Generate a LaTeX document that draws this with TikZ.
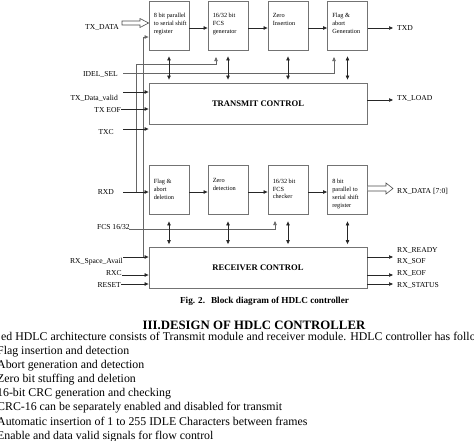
\documentclass[tikz,border=0pt]{standalone}
\usepackage{fontspec}
\setmainfont{Liberation Serif}
\usetikzlibrary{arrows.meta,calc}
\begin{document}
\begin{tikzpicture}[x=1pt,y=-1pt,
  blk/.style={draw=black!55, line width=0.8pt, fill=white, minimum width=40pt, minimum height=49pt, inner sep=0pt},
  ctl/.style={draw=black!55, line width=0.8pt, minimum width=218pt, minimum height=41pt, inner sep=0pt, font=\fontsize{8.6}{10}\selectfont\bfseries},
  blbl/.style={font=\fontsize{6.3}{7.9}\selectfont, align=left, inner sep=0pt, anchor=north west},
  sigl/.style={font=\fontsize{7.6}{9}\selectfont, inner sep=0pt, anchor=base east},
  sigr/.style={font=\fontsize{7.6}{9}\selectfont, inner sep=0pt, anchor=base west},
  arr/.style={-{Triangle[length=4pt,width=3.4pt]}, line width=0.7pt, draw=black!85},
  darr/.style={{Triangle[length=4pt,width=3.4pt]}-{Triangle[length=4pt,width=3.4pt]}, line width=0.7pt, draw=black!85},
  warr/.style={-{Triangle[length=4pt,width=3.4pt]}, line width=0.7pt, draw=black!60},
  hol/.style={draw=black!70, line width=0.6pt, fill=white},
  body/.style={font=\fontsize{11.85}{14}\selectfont, inner sep=0pt, anchor=base west},
]
\clip (0,0) rectangle (474,440);

% transmit blocks
\node[blk] (t1) at (169,25.5) {};
\node[blk] (t2) at (228,25.5) {};
\node[blk] (t3) at (288,25.5) {};
\node[blk] (t4) at (347.5,25.5) {};
\node[blbl] (t1l) at ([xshift=5pt,yshift=-12.5pt]t1.north west) {8 bit parallel\\to serial shift\\register};
\node[blbl] (t2l) at ([xshift=5pt,yshift=-12.5pt]t2.north west) {16/32 bit\\FCS\\generator};
\node[blbl] (t3l) at ([xshift=5pt,yshift=-12.5pt]t3.north west) {Zero\\Insertion};
\node[blbl] (t4l) at ([xshift=5pt,yshift=-12.5pt]t4.north west) {Flag \&\\abort\\Generation};
\node[ctl] (tc) at (258,103.5) {TRANSMIT CONTROL};

% receive blocks
\node[blk] (r1) at (169,189.5) {};
\node[blk] (r2) at (228,189.5) {};
\node[blk] (r3) at (288,189.5) {};
\node[blk] (r4) at (347.5,189.5) {};
\node[blbl] (r1l) at ([xshift=5pt,yshift=-14.5pt]r1.north west) {Flag \&\\abort\\deletion};
\node[blbl] (r2l) at ([xshift=5pt,yshift=-14pt]r2.north west) {Zero\\detection};
\node[blbl] (r3l) at ([xshift=5pt,yshift=-14pt]r3.north west) {16/32 bit\\FCS\\checker};
\node[blbl] (r4l) at ([xshift=5pt,yshift=-14.5pt]r4.north west) {8 bit\\parallel to\\serial shift\\register};
\node[ctl] (rc) at (258,268) {RECEIVER CONTROL};

% left signal labels
\node[sigl] (txdata) at (119,29) {TX\_DATA};
\node[sigl] (idel) at (118,76) {IDEL\_SEL};
\node[sigl] (txdv) at (118,100) {TX\_Data\_valid};
\node[sigl] (txeof) at (121,112) {TX EOF};
\node[sigl] (txc) at (114,134) {TXC};
\node[sigl] (rxd) at (114,194) {RXD};
\node[sigl] (fcs) at (130,229) {FCS 16/32};
\node[sigl] (rxsa) at (123,263) {RX\_Space\_Avail};
\node[sigl] (rxc) at (122,275) {RXC};
\node[sigl] (reset) at (121,287) {RESET};

% right signal labels
\node[sigr] (txd) at (397,30) {TXD};
\node[sigr] (txload) at (397,100) {TX\_LOAD};
\node[sigr] (rxdata) at (397,193) {RX\_DATA [7:0]};
\node[sigr] (rxready) at (397,252) {RX\_READY};
\node[sigr] (rxsof) at (397,263) {RX\_SOF};
\node[sigr] (rxeof) at (397,275) {RX\_EOF};
\node[sigr] (rxstat) at (397,287) {RX\_STATUS};

% hollow data arrows
\draw[hol] (122,21) -- (140,21) -- (140,18.5) -- (t1.west |- 0,23) -- (140,27.5) -- (140,25) -- (122,25) -- cycle;
\draw[hol] (r4.east |- 0,186) -- (386,186) -- (386,183) -- (393,188.5) -- (386,194) -- (386,191) -- (r4.east |- 0,191);

% chain arrows
\draw[arr] (t1.east |- 0,28) -- (t2.west |- 0,28);
\draw[arr] (t2.east |- 0,28) -- (t3.west |- 0,28);
\draw[arr] (t3.east |- 0,28) -- (t4.west |- 0,28);
\draw[arr] (t4.east |- 0,28) -- (393,28);
\draw[arr] (r1.east |- 0,192) -- (r2.west |- 0,192);
\draw[arr] (r2.east |- 0,192) -- (r3.west |- 0,192);
\draw[arr] (r3.east |- 0,192) -- (r4.west |- 0,192);

% long wires
\draw[warr] (136,192) |- (216,64) -- (216,57);
\draw[warr] (143,257) |- (t1.west |- 0,37);
\draw[warr] (123,73) -| (334,57);
\draw[warr] (129,229) -| (275,221);

% bidirectional
\foreach \b in {t1,t2,t3,t4}{
  \draw[darr] ([yshift=-6pt]\b.south) -- ([yshift=3pt]tc.north -| \b.south);
}
\foreach \b in {r1,r2,r3,r4}{
  \draw[darr] ([yshift=-7pt]\b.south) -- ([yshift=3pt]rc.north -| \b.south);
}

% inputs
\draw[arr] (123,92) -- (tc.west |- 0,92);
\draw[arr] (121,109) -- (tc.west |- 0,109);
\draw[arr] (123,129) -- (tc.west |- 0,129);
\draw[arr] (123,192) -- (r1.west |- 0,192);
\draw[arr] (123,257) -- (rc.west |- 0,257);
\draw[arr] (122,275) -- (rc.west |- 0,275);
\draw[arr] (121,284) -- (rc.west |- 0,284);

% outputs
\draw[arr] (tc.east |- 0,100) -- (393,100);
\draw[arr] (rc.east |- 0,257) -- (393,257);
\draw[arr] (rc.east |- 0,275) -- (393,275);
\draw[arr] (rc.east |- 0,284) -- (393,284);

% caption and text
\node[font=\fontsize{9.2}{11}\selectfont\bfseries, inner sep=0pt] (cap) at (264.5,301) {Fig. 2.\hspace{6pt}Block diagram of HDLC controller};
\node[font=\fontsize{12.8}{14}\selectfont\bfseries, inner sep=0pt] (head) at (254,325) {III.DESIGN OF HDLC CONTROLLER};
\node[body] (p1) at (1,340) {ed HDLC architecture consists of Transmit module and receiver module. HDLC controller has follow};
\node[body] (p2) at (-3,354) {Flag insertion and detection};
\node[body] (p3) at (-3,368) {Abort generation and detection};
\node[body] (p4) at (-3,382) {Zero bit stuffing and deletion};
\node[body] (p5) at (-3,396.5) {16-bit CRC generation and checking};
\node[body] (p6) at (-3,410.5) {CRC-16 can be separately enabled and disabled for transmit};
\node[body] (p7) at (-3,425) {Automatic insertion of 1 to 255 IDLE Characters between frames};
\node[body] (p8) at (-3,439.5) {Enable and data valid signals for flow control};
\end{tikzpicture}
\end{document}
